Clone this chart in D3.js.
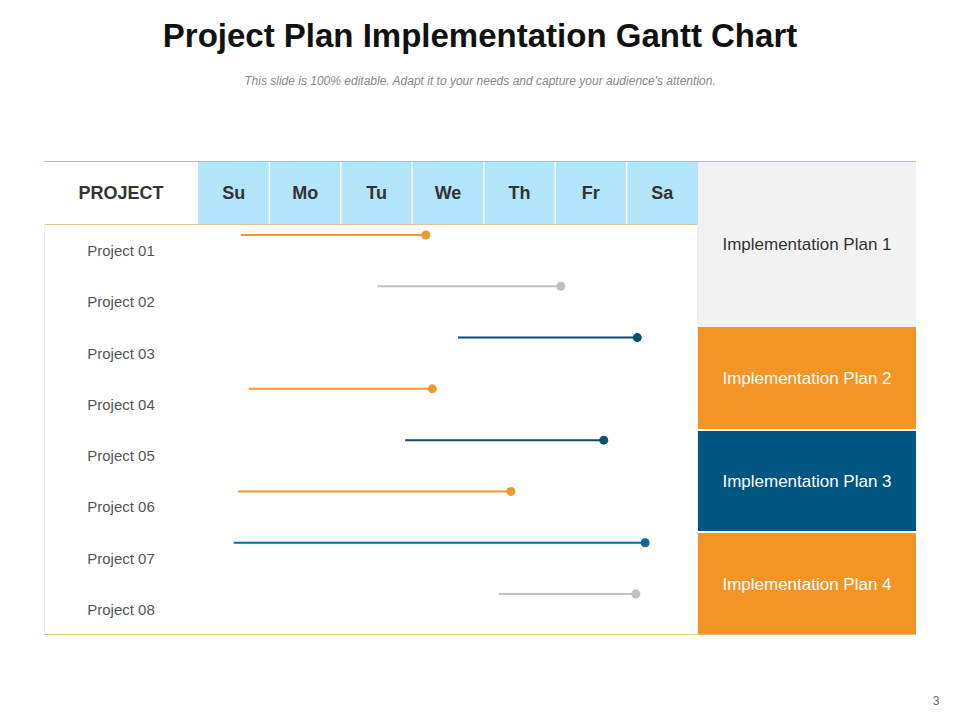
<!DOCTYPE html>
<html><head><meta charset="utf-8">
<script src="https://cdn.jsdelivr.net/npm/d3@7"></script>
<style>body{margin:0;background:#fff}</style></head>
<body><svg id="c" width="960" height="720"></svg>
<script>
const days = ["Su","Mo","Tu","We","Th","Fr","Sa"];
const projects = ["Project 01","Project 02","Project 03","Project 04","Project 05","Project 06","Project 07","Project 08"];
const starts = [0.60,2.51,3.64,0.71,2.90,0.56,0.50,4.21];
const ends   = [3.19,5.08,6.15,3.28,5.68,4.38,6.26,6.13];
const colors = ["#ee9a2e","#c0c0c0","#0c4f73","#ee9a2e","#0c4f73","#ee9a2e","#11679a","#c0c0c0"];
const plans = ["Implementation Plan 1","Implementation Plan 2","Implementation Plan 3","Implementation Plan 4"];
const planRanges = [[162,327],[327,429],[431,531],[533,634]];
const planFill = ["#f2f2f2","#f39424","#005581","#f39424"];
const planText = ["#333","#fff","#fff","#fff"];

const svg = d3.select("#c");
const F = "Liberation Sans, Arial, sans-serif";
svg.append("text").attr("x",480).attr("y",47).attr("text-anchor","middle").attr("font-family",F)
  .attr("font-weight","bold").attr("font-size",33).attr("fill","#111").text("Project Plan Implementation  Gantt Chart");
svg.append("text").attr("x",480).attr("y",85).attr("text-anchor","middle").attr("font-family",F)
  .attr("font-style","italic").attr("font-size",12).attr("fill","#888")
  .text("This slide is 100% editable. Adapt it to your needs and capture your audience's attention.");
svg.append("text").attr("x",936).attr("y",705).attr("text-anchor","middle").attr("font-family",F)
  .attr("font-size",12).attr("fill","#666").text("3");

const x = d3.scaleLinear().domain([0,7]).range([198,698]);
const xb = d3.scaleBand().domain(days).range([198,698]);
const y = d3.scalePoint().domain(projects).range([250,609]);

// header
svg.selectAll(".hd").data(days).join("rect").attr("x",d=>xb(d)).attr("y",162).attr("width",xb.bandwidth()).attr("height",62).attr("fill","#b3e5fb");
svg.selectAll(".hs").data(days.slice(1)).join("line").attr("x1",d=>xb(d)).attr("x2",d=>xb(d)).attr("y1",162).attr("y2",224).attr("stroke","#fff").attr("stroke-width",1.5);
svg.selectAll(".ht").data(days).join("text").attr("x",d=>xb(d)+xb.bandwidth()/2).attr("y",199).attr("text-anchor","middle")
  .attr("font-family",F).attr("font-weight","bold").attr("font-size",18).attr("fill","#333").text(d=>d);
svg.append("text").attr("x",121).attr("y",199).attr("text-anchor","middle").attr("font-family",F).attr("font-weight","bold").attr("font-size",18).attr("fill","#333").text("PROJECT");

// plans
svg.selectAll(".pl").data(plans).join("rect").attr("x",698).attr("width",218)
  .attr("y",(d,i)=>planRanges[i][0]).attr("height",(d,i)=>planRanges[i][1]-planRanges[i][0]).attr("fill",(d,i)=>planFill[i]);
svg.selectAll(".pt").data(plans).join("text").attr("x",807).attr("y",(d,i)=>i==0?250:(planRanges[i][0]+planRanges[i][1])/2+6)
  .attr("text-anchor","middle").attr("font-family",F).attr("font-size",17).attr("fill",(d,i)=>planText[i]).text(d=>d);

// borders
svg.append("line").attr("x1",44).attr("x2",916).attr("y1",161.5).attr("y2",161.5).attr("stroke","#e3b86a");
svg.append("line").attr("x1",44).attr("x2",698).attr("y1",224.5).attr("y2",224.5).attr("stroke","#e8c48a");
svg.append("line").attr("x1",44).attr("x2",916).attr("y1",634.5).attr("y2",634.5).attr("stroke","#e3c07a");
svg.append("line").attr("x1",44.5).attr("x2",44.5).attr("y1",224).attr("y2",634).attr("stroke","#eee");
svg.append("line").attr("x1",697.5).attr("x2",697.5).attr("y1",224).attr("y2",634).attr("stroke","#eee");

// labels
svg.selectAll(".pr").data(projects).join("text").attr("x",121).attr("y",d=>y(d)+6).attr("text-anchor","middle")
  .attr("font-family",F).attr("font-size",15).attr("fill","#555").text(d=>d);

// bars
const g = svg.append("g");
g.selectAll("line").data(projects).join("line").attr("x1",(d,i)=>x(starts[i])).attr("x2",(d,i)=>x(ends[i]))
  .attr("y1",d=>y(d)-15).attr("y2",d=>y(d)-15).attr("stroke",(d,i)=>colors[i]).attr("stroke-width",2);
g.selectAll("circle").data(projects).join("circle").attr("cx",(d,i)=>x(ends[i])).attr("cy",d=>y(d)-15).attr("r",4.5).attr("fill",(d,i)=>colors[i]);
</script></body></html>
